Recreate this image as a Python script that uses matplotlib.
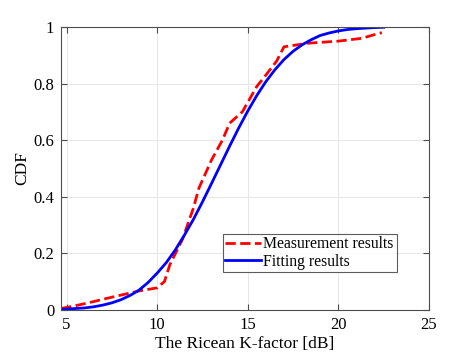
import matplotlib
matplotlib.use("Agg")
import matplotlib.pyplot as plt

meas_k = [4.7, 5.5, 6.2, 7.5, 9.0, 10.0, 10.4, 10.7, 11.4, 12.0, 12.3, 13.0,
          13.6, 14.0, 14.7, 15.5, 16.0, 16.6, 17.0, 18.4, 20.0, 21.3, 22.1, 22.4]
meas_cdf = [0.005, 0.015, 0.025, 0.045, 0.067, 0.078, 0.10, 0.16, 0.25, 0.36, 0.43, 0.53,
            0.60, 0.66, 0.70, 0.79, 0.83, 0.88, 0.93, 0.943, 0.95, 0.96, 0.975, 0.98]

# fitted CDF
fit_k = [4.7, 5, 5.5, 6, 6.5, 7, 7.5, 8, 8.5, 9, 9.5, 10, 10.5, 11, 11.5, 12, 12.5, 13,
         13.5, 14, 14.5, 15, 15.5, 16, 16.5, 17, 17.5, 18, 18.5, 19, 19.5, 20, 20.5,
         21, 21.5, 22, 22.5]
fit_cdf = [0.002, 0.003, 0.005, 0.007, 0.011, 0.017, 0.025, 0.036, 0.051, 0.07, 0.097,
           0.13, 0.167, 0.212, 0.264, 0.32, 0.382, 0.447, 0.513, 0.579, 0.643, 0.703,
           0.758, 0.807, 0.849, 0.885, 0.914, 0.937, 0.955, 0.97, 0.979, 0.986, 0.991,
           0.994, 0.996, 0.998, 0.999]

xticks = [5, 10, 15, 20, 25]
yticks = [0, 0.2, 0.4, 0.6, 0.8, 1]
ytick_labels = ["0", "0.2", "0.4", "0.6", "0.8", "1"]

plt.rcParams["font.family"] = ["Liberation Serif", "DejaVu Serif"]

fig = plt.figure(figsize=(4.74, 3.55), dpi=100)
ax = fig.add_axes([0.129, 0.127, 0.776, 0.797])

ax.plot(meas_k, meas_cdf, "--", color="#ff0000", linewidth=2.0, label="Measurement results")
ax.plot(fit_k, fit_cdf, "-", color="#0000ff", linewidth=2.0, label="Fitting results")

ax.set_xlim(4.7, 25)
ax.set_ylim(0, 1)
ax.set_xticks(xticks)
ax.set_yticks(yticks)
ax.set_yticklabels(ytick_labels)
ax.tick_params(direction="in", top=True, right=True, labelsize=12, length=4,
               color="#4d4d4d", pad=5)
ax.grid(True, color="#e6e6e6", linewidth=0.7)
for s in ax.spines.values():
    s.set_color("#4d4d4d")
    s.set_linewidth(0.8)

ax.set_xlabel("The Ricean K-factor [dB]", fontsize=12.5, labelpad=2)
ax.set_ylabel("CDF", fontsize=12.5, labelpad=2)

leg = ax.legend(loc="lower left", bbox_to_anchor=(0.44, 0.134, 0.473, 0.138), mode="expand",
                fontsize=11.3, frameon=True, fancybox=False, borderaxespad=0,
                handlelength=2.3, handletextpad=0.1, borderpad=0.15, labelspacing=0.1)
leg.get_frame().set_edgecolor("#333333")
leg.get_frame().set_linewidth(0.8)

fig.savefig("out.png", dpi=100)
